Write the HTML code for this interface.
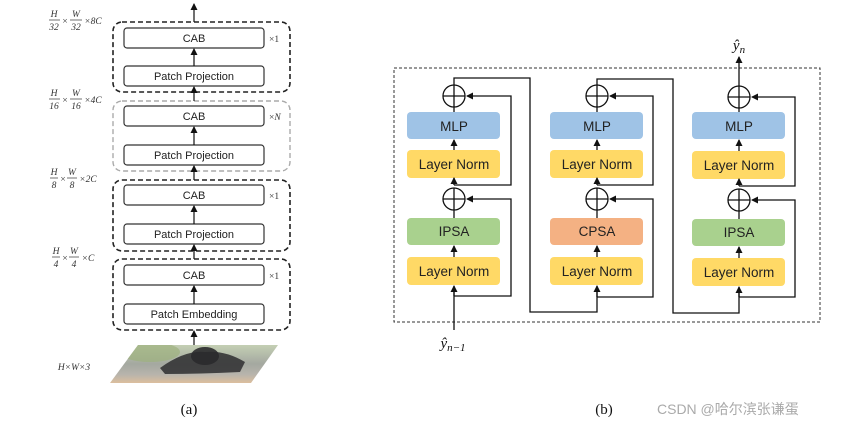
<!DOCTYPE html>
<html><head><meta charset="utf-8"><style>
body{margin:0;background:#fff}
svg{display:block}
.b{font-family:"Liberation Sans",sans-serif;font-size:11px;fill:#222}
.c{font-family:"Liberation Sans",sans-serif;font-size:13.5px;fill:#222}
.m{font-family:"Liberation Serif",serif;font-style:italic;font-size:9.5px;fill:#333}
</style></head><body>
<svg width="865" height="428" viewBox="0 0 865 428" xmlns="http://www.w3.org/2000/svg">
<defs>
<marker id="a" markerWidth="8" markerHeight="8" refX="6" refY="4" orient="auto" markerUnits="userSpaceOnUse"><path d="M0,0.5 L7,4 L0,7.5 z" fill="#111"/></marker>
<linearGradient id="img" x1="0" y1="0" x2="0" y2="1">
<stop offset="0" stop-color="#c4cfb4"/><stop offset="0.5" stop-color="#a4a8a0"/><stop offset="0.78" stop-color="#b8b4ac"/><stop offset="1" stop-color="#dcbf9e"/></linearGradient>
<clipPath id="cp"><polygon points="138,345 278,345 251,383 110,383"/></clipPath>
</defs>
<!-- (a) -->
<g fill="none" stroke="#222" stroke-width="1.6" stroke-dasharray="5,3">
<rect x="113" y="22" width="177" height="70" rx="9"/>
<rect x="113" y="180" width="177" height="71" rx="9"/>
<rect x="113" y="259" width="177" height="71" rx="9"/>
</g>
<rect x="113" y="101" width="177" height="70" rx="9" fill="none" stroke="#aaa" stroke-width="1.4" stroke-dasharray="5,3"/>
<g fill="#fff" stroke="#333" stroke-width="1.2">
<rect x="124" y="28" width="140" height="20" rx="3"/><rect x="124" y="66" width="140" height="20" rx="3"/>
<rect x="124" y="106" width="140" height="20" rx="3"/><rect x="124" y="145" width="140" height="20" rx="3"/>
<rect x="124" y="185" width="140" height="20" rx="3"/><rect x="124" y="224" width="140" height="20" rx="3"/>
<rect x="124" y="265" width="140" height="20" rx="3"/><rect x="124" y="304" width="140" height="20" rx="3"/>
</g>
<g class="b" text-anchor="middle">
<text x="194" y="42">CAB</text><text x="194" y="80">Patch Projection</text>
<text x="194" y="120">CAB</text><text x="194" y="159">Patch Projection</text>
<text x="194" y="199">CAB</text><text x="194" y="238">Patch Projection</text>
<text x="194" y="279">CAB</text><text x="194" y="318">Patch Embedding</text>
</g>
<g class="m" style="font-style:normal"><text x="269" y="42">×1</text><text x="269" y="120">×<tspan font-style="italic">N</tspan></text><text x="269" y="199">×1</text><text x="269" y="279">×1</text></g>
<g stroke="#111" stroke-width="1.2" marker-end="url(#a)">
<line x1="194" y1="22" x2="194" y2="4"/><line x1="194" y1="66" x2="194" y2="49"/>
<line x1="194" y1="101" x2="194" y2="87"/><line x1="194" y1="145" x2="194" y2="127"/>
<line x1="194" y1="180" x2="194" y2="166"/><line x1="194" y1="224" x2="194" y2="206"/>
<line x1="194" y1="259" x2="194" y2="245"/><line x1="194" y1="304" x2="194" y2="286"/>
<line x1="194" y1="345" x2="194" y2="331"/>
</g>
<polygon points="138,345 278,345 251,383 110,383" fill="url(#img)"/>
<g clip-path="url(#cp)">
<ellipse cx="150" cy="352" rx="30" ry="10" fill="#9db07e" opacity="0.7"/>
<path d="M160,368 Q185,350 205,352 Q225,350 245,362 L240,372 Q200,374 165,374 Z" fill="#2e2e30" opacity="0.85"/>
<ellipse cx="205" cy="356" rx="14" ry="9" fill="#2a2a2c" opacity="0.9"/>
</g>
<!-- fractions -->
<g class="m" text-anchor="middle">
<text x="54" y="17">H</text><line x1="49" y1="20" x2="60" y2="20" stroke="#333" stroke-width="0.7"/><text x="54" y="30">32</text>
<text x="65" y="24">×</text>
<text x="76" y="17">W</text><line x1="70" y1="20" x2="82" y2="20" stroke="#333" stroke-width="0.7"/><text x="76" y="30">32</text>
<text x="93" y="24">×8C</text>
<text x="54" y="96">H</text><line x1="49" y1="99" x2="60" y2="99" stroke="#333" stroke-width="0.7"/><text x="54" y="109">16</text>
<text x="65" y="103">×</text>
<text x="76" y="96">W</text><line x1="70" y1="99" x2="82" y2="99" stroke="#333" stroke-width="0.7"/><text x="76" y="109">16</text>
<text x="93" y="103">×4C</text>
<text x="54" y="175">H</text><line x1="50" y1="178" x2="58" y2="178" stroke="#333" stroke-width="0.7"/><text x="54" y="188">8</text>
<text x="63" y="182">×</text>
<text x="72" y="175">W</text><line x1="67" y1="178" x2="77" y2="178" stroke="#333" stroke-width="0.7"/><text x="72" y="188">8</text>
<text x="88" y="182">×2C</text>
<text x="56" y="254">H</text><line x1="52" y1="257" x2="60" y2="257" stroke="#333" stroke-width="0.7"/><text x="56" y="267">4</text>
<text x="65" y="261">×</text>
<text x="74" y="254">W</text><line x1="69" y1="257" x2="79" y2="257" stroke="#333" stroke-width="0.7"/><text x="74" y="267">4</text>
<text x="88" y="261">×C</text>
<text x="74" y="370">H×W×3</text>
</g>
<text x="189" y="414" font-family="Liberation Serif,serif" font-size="15" text-anchor="middle" fill="#111">(a)</text>

<!-- (b) -->
<rect x="394" y="68" width="426" height="254" fill="none" stroke="#333" stroke-width="1" stroke-dasharray="3,2"/>
<g stroke="#111" stroke-width="1.3" fill="none">
<polyline points="454,85 454,78 530,78 530,312 597,312 597,290"/>
<polyline points="597,85 597,79 673,79 673,313 739,313 739,290"/>
<line x1="454" y1="330" x2="454" y2="290"/>
</g>
<g fill="#9fc3e6"><rect x="407" y="112" width="93" height="27" rx="4"/><rect x="550" y="112" width="93" height="27" rx="4"/><rect x="692" y="112" width="93" height="27" rx="4"/></g>
<g fill="#ffd966"><rect x="407" y="150" width="93" height="28" rx="4"/><rect x="550" y="150" width="93" height="28" rx="4"/><rect x="692" y="151" width="93" height="28" rx="4"/>
<rect x="407" y="257" width="93" height="28" rx="4"/><rect x="550" y="257" width="93" height="28" rx="4"/><rect x="692" y="258" width="93" height="28" rx="4"/></g>
<rect x="407" y="218" width="93" height="27" rx="4" fill="#a9d18e"/>
<rect x="550" y="218" width="93" height="27" rx="4" fill="#f4b183"/>
<rect x="692" y="219" width="93" height="27" rx="4" fill="#a9d18e"/>
<g class="c" text-anchor="middle">
<text x="454" y="131">MLP</text><text x="597" y="131">MLP</text><text x="739" y="131">MLP</text>
<text x="454" y="169">Layer Norm</text><text x="597" y="169">Layer Norm</text><text x="739" y="170">Layer Norm</text>
<text x="454" y="236">IPSA</text><text x="597" y="236">CPSA</text><text x="739" y="237">IPSA</text>
<text x="454" y="276">Layer Norm</text><text x="597" y="276">Layer Norm</text><text x="739" y="277">Layer Norm</text>
</g>
<g stroke="#111" stroke-width="1.3" fill="none">
<circle cx="454" cy="96" r="11"/><line x1="443" y1="96" x2="465" y2="96"/><line x1="454" y1="85" x2="454" y2="112"/>
<circle cx="454" cy="199" r="11"/><line x1="443" y1="199" x2="465" y2="199"/><line x1="454" y1="188" x2="454" y2="218"/>
<polyline points="454,185 511,185 511,96 467,96" marker-end="url(#a)"/>
<polyline points="454,296 511,296 511,199 467,199" marker-end="url(#a)"/>
<line x1="454" y1="185" x2="454" y2="178" marker-end="url(#a)"/>
<line x1="454" y1="150" x2="454" y2="140" marker-end="url(#a)"/>
<line x1="454" y1="257" x2="454" y2="246" marker-end="url(#a)"/>
<line x1="454" y1="296" x2="454" y2="286" marker-end="url(#a)"/>
<circle cx="597" cy="96" r="11"/><line x1="586" y1="96" x2="608" y2="96"/><line x1="597" y1="85" x2="597" y2="112"/>
<circle cx="597" cy="199" r="11"/><line x1="586" y1="199" x2="608" y2="199"/><line x1="597" y1="188" x2="597" y2="218"/>
<polyline points="597,185 653,185 653,96 610,96" marker-end="url(#a)"/>
<polyline points="597,297 653,297 653,199 610,199" marker-end="url(#a)"/>
<line x1="597" y1="185" x2="597" y2="178" marker-end="url(#a)"/>
<line x1="597" y1="150" x2="597" y2="140" marker-end="url(#a)"/>
<line x1="597" y1="257" x2="597" y2="246" marker-end="url(#a)"/>
<line x1="597" y1="297" x2="597" y2="286" marker-end="url(#a)"/>
<circle cx="739" cy="97" r="11"/><line x1="728" y1="97" x2="750" y2="97"/><line x1="739" y1="86" x2="739" y2="112"/>
<circle cx="739" cy="200" r="11"/><line x1="728" y1="200" x2="750" y2="200"/><line x1="739" y1="189" x2="739" y2="219"/>
<polyline points="739,186 795,186 795,97 752,97" marker-end="url(#a)"/>
<polyline points="739,297 795,297 795,200 752,200" marker-end="url(#a)"/>
<line x1="739" y1="186" x2="739" y2="179" marker-end="url(#a)"/>
<line x1="739" y1="151" x2="739" y2="140" marker-end="url(#a)"/>
<line x1="739" y1="258" x2="739" y2="247" marker-end="url(#a)"/>
<line x1="739" y1="297" x2="739" y2="287" marker-end="url(#a)"/>
<line x1="739" y1="86" x2="739" y2="57" marker-end="url(#a)"/>
</g>
<text x="739" y="50" font-family="Liberation Serif,serif" font-style="italic" font-size="15" text-anchor="middle" fill="#111">ŷ<tspan font-size="11" dy="3">n</tspan></text>
<text x="453" y="348" font-family="Liberation Serif,serif" font-style="italic" font-size="15" text-anchor="middle" fill="#111">ŷ<tspan font-size="11" dy="3">n−1</tspan></text>
<text x="604" y="414" font-family="Liberation Serif,serif" font-size="15" text-anchor="middle" fill="#111">(b)</text>
<text x="657" y="414" font-family="Liberation Sans,'Noto Sans CJK SC',sans-serif" font-size="14" fill="#aaa">CSDN @哈尔滨张谦蛋</text>
</svg>
</body></html>
